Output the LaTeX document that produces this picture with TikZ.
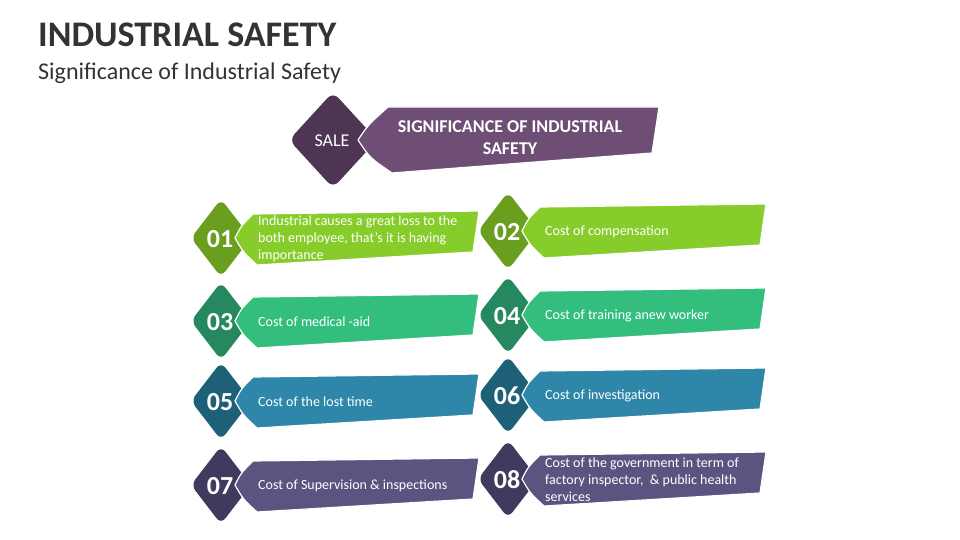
\documentclass[tikz,border=0pt]{standalone}
\usepackage{fontspec}
\setmainfont{Carlito}
\begin{document}
\begin{tikzpicture}[x=1pt,y=-1pt,
  numtxt/.style={text=white,font=\bfseries\fontsize{26}{26}\selectfont,inner sep=0},
  itemtxt/.style={text=white,font=\fontsize{14}{17}\selectfont,align=left,anchor=west,inner sep=0},
  banner/.style={fill=#1,draw=white,line width=1.2pt,line join=round}]
\useasboundingbox (0,0) rectangle (960,540);
\definecolor{g1d}{HTML}{6A9E1F}\definecolor{g1l}{HTML}{86CC2A}
\definecolor{g2d}{HTML}{25885E}\definecolor{g2l}{HTML}{33BE7E}
\definecolor{g3d}{HTML}{1F6079}\definecolor{g3l}{HTML}{2E86A8}
\definecolor{g4d}{HTML}{3F3B5E}\definecolor{g4l}{HTML}{5A5480}
\definecolor{hd}{HTML}{4E3553}\definecolor{hl}{HTML}{6E4E74}
\node[anchor=west,inner sep=0,text=black!80,font=\bfseries\fontsize{36}{36}\selectfont] (title) at (38,35) {INDUSTRIAL SAFETY};
\node[anchor=west,inner sep=0,text=black!80,font=\fontsize{24}{24}\selectfont] (sub) at (38,73) {Significance of Industrial Safety};
% header
\fill[hd,rounded corners=8pt] (333,92) -- (377,140) -- (333,188) -- (289,140) -- cycle;
\path[banner=hl] (358,140) .. controls (368,125) .. (388,107) -- (659,107) -- (652,153) -- (392,173) .. controls (370,158) .. (358,140) -- cycle;
\node[text=white,font=\fontsize{18}{18}\selectfont,inner sep=0] (sale) at (332,141) {SALE};
\node[text=white,font=\bfseries\fontsize{18}{22}\selectfont,align=center,inner sep=0] (head) at (510,138) {SIGNIFICANCE OF INDUSTRIAL\\SAFETY};
\newcommand\rowitem[7]{%
  \fill[#4,rounded corners=7pt] (#2,#3-39) -- (#2+30,#3) -- (#2,#3+39) -- (#2-30,#3) -- cycle;
  \path[banner=#5] (#2+14,#3) .. controls (#2+20,#3-12) .. (#2+32,#3-24) -- (#2+258,#3-27) -- (#2+252,#3+14) -- (#2+36,#3+27) .. controls (#2+22,#3+14) .. (#2+14,#3) -- cycle;
  \node[numtxt] (n#1) at (#2-1,#3+1) {#6};
  \node[itemtxt] (t#1) at (#2+37,#3+1) {#7};
}
\rowitem{a}{221}{238}{g1d}{g1l}{01}{Industrial causes a great loss to the\\both employee, that’s it is having\\importance}
\rowitem{b}{508}{231}{g1d}{g1l}{02}{Cost of compensation}
\rowitem{c}{221}{321}{g2d}{g2l}{03}{Cost of medical -aid}
\rowitem{d}{508}{315}{g2d}{g2l}{04}{Cost of training anew worker}
\rowitem{e}{221}{401}{g3d}{g3l}{05}{Cost of the lost time}
\rowitem{f}{508}{395}{g3d}{g3l}{06}{Cost of investigation}
\rowitem{g}{221}{485}{g4d}{g4l}{07}{Cost of Supervision \& inspections}
\rowitem{h}{508}{479}{g4d}{g4l}{08}{Cost of the government in term of\\factory inspector,~ \& public health\\services}
\end{tikzpicture}
\end{document}
